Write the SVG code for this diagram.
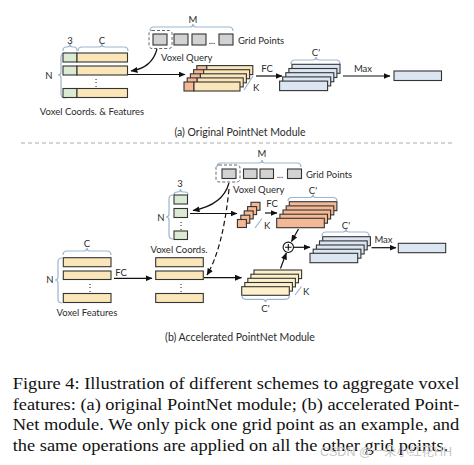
<svg xmlns="http://www.w3.org/2000/svg" width="474" height="465" viewBox="0 0 474 465">
<defs>
<marker id="ah" markerWidth="7" markerHeight="6" refX="6.5" refY="3" orient="auto" markerUnits="userSpaceOnUse"><path d="M0,0 L7,3 L0,6 Z" fill="#111"/></marker>
<style>
.lbl{font-family:Lato,"Open Sans",sans-serif;font-size:9.5px;fill:#2a2a2a}
.ttl{font-family:Lato,"Open Sans",sans-serif;font-size:10.5px;fill:#2a2a2a}
.cap{font-family:"Liberation Serif",serif;font-size:16.4px;fill:#111}
.br{fill:none;stroke:#9bb5d0;stroke-width:1.2}
.box{stroke:#333;stroke-width:1.1}
.y{fill:#fbe6b9}.g{fill:#dbead2}.o{fill:#f4b994}.b{fill:#dbe6f2}.gr{fill:#d2d2d2}.ly{fill:#fdf0cc}
.ar{fill:none;stroke:#111;stroke-width:1.2;marker-end:url(#ah)}
.dbox{fill:none;stroke:#666;stroke-width:1;stroke-dasharray:3,2}
</style>
</defs>
<rect width="474" height="465" fill="#fff"/>

<!-- (a) -->
<g id="a-coords">
<text class="lbl" x="70" y="44" text-anchor="middle">3</text>
<text class="lbl" x="102" y="44" text-anchor="middle">C</text>
<path class="br" d="M63,51 Q63,47 66,47 L67,47 Q70,47 70,44 Q70,47 73,47 L74,47 Q77,47 77,51"/>
<path class="br" d="M78,51 Q78,47 82,47 L99,47 Q102,47 102,44 Q102,47 105,47 L124,47 Q128,47 128,51"/>
<path class="br" d="M66,53 Q61,53 61,57 L61,72 Q61,75 58,75 Q61,75 61,78 L61,94 Q61,98 66,98"/>
<text class="lbl" x="49" y="79" text-anchor="middle">N</text>
<rect class="box g" x="63" y="53" width="14" height="9"/><rect class="box y" x="77" y="53" width="50.5" height="9"/>
<rect class="box g" x="63" y="66" width="14" height="9"/><rect class="box y" x="77" y="66" width="50.5" height="9"/>
<text class="lbl" x="96" y="86" text-anchor="middle">⋮</text>
<rect class="box g" x="63" y="88.5" width="14" height="9"/><rect class="box y" x="77" y="88.5" width="50.5" height="9"/>
<text class="lbl" x="92" y="115" text-anchor="middle">Voxel Coords. &amp; Features</text>
</g>

<g id="a-grid">
<text class="lbl" x="193" y="23" text-anchor="middle">M</text>
<path class="br" d="M150,31 Q150,27 154,27 L190,27 Q193,27 193,24 Q193,27 196,27 L229,27 Q233,27 233,31"/>
<rect class="dbox" x="149" y="30.5" width="23" height="18" rx="3"/>
<rect class="box gr" x="153" y="34" width="14" height="11"/>
<rect class="box gr" x="174" y="34" width="14" height="11"/>
<rect class="box gr" x="192" y="34" width="14" height="11"/>
<text class="lbl" x="212" y="44" text-anchor="middle">...</text>
<rect class="box gr" x="219" y="34" width="14" height="11"/>
<text class="lbl" x="238" y="43.5">Grid Points</text>
<text class="lbl" x="161" y="60.5">Voxel Query</text>
</g>

<g id="a-grouped">
<g>
<rect class="box o" x="196.8" y="65.6" width="10" height="9"/><rect class="box y" x="206.8" y="65.6" width="46" height="9"/>
<rect class="box o" x="193.6" y="69.7" width="10" height="9"/><rect class="box y" x="203.6" y="69.7" width="46" height="9"/>
<rect class="box o" x="190.4" y="73.8" width="10" height="9"/><rect class="box y" x="200.4" y="73.8" width="46" height="9"/>
<rect class="box o" x="187.2" y="77.9" width="10" height="9"/><rect class="box y" x="197.2" y="77.9" width="46" height="9"/>
<rect class="box o" x="184" y="82" width="10" height="9"/><rect class="box y" x="194" y="82" width="46" height="9"/>
</g>
<line class="br" x1="244" y1="90" x2="253" y2="76"/>
<text class="lbl" x="253" y="91">K</text>
</g>

<g id="a-fc-out">
<text class="lbl" x="316" y="56" text-anchor="middle">C'</text>
<path class="br" d="M291,64 Q291,60 295,60 L313,60 Q316,60 316,57 Q316,60 319,60 L336,60 Q340,60 340,64"/>
<rect class="box b" x="292" y="64.3" width="48" height="9"/>
<rect class="box b" x="288.9" y="68.5" width="48" height="9"/>
<rect class="box b" x="285.8" y="72.7" width="48" height="9"/>
<rect class="box b" x="282.7" y="76.9" width="48" height="9"/>
<rect class="box b" x="279.6" y="81.1" width="48" height="9.5"/>
</g>

<g id="a-out">
<rect class="box b" x="394" y="71" width="47.5" height="9.5"/>
</g>

<g id="a-connectors">
<path class="ar" d="M157,49 Q152,68 131,71"/>
<line class="ar" x1="128" y1="74.5" x2="185" y2="74.5"/>
<line class="ar" x1="256" y1="76" x2="282" y2="76"/>
<text class="lbl" x="267" y="72" text-anchor="middle">FC</text>
<line class="ar" x1="343" y1="76" x2="390" y2="76"/>
<text class="lbl" x="363" y="72" text-anchor="middle">Max</text>
</g>

<text class="ttl" x="240" y="136" text-anchor="middle">(a) Original PointNet Module</text>
<line x1="21" y1="143" x2="453" y2="143" stroke="#aaa" stroke-width="1" stroke-dasharray="4,3"/>

<!-- (b) -->
<g id="b-grid">
<text class="lbl" x="262" y="157" text-anchor="middle">M</text>
<path class="br" d="M217,167 Q217,163 221,163 L259,163 Q262,163 262,160 Q262,163 265,163 L297,163 Q301,163 301,167"/>
<rect class="dbox" x="216" y="165" width="24" height="17" rx="3"/>
<rect class="box gr" x="222" y="169" width="14" height="9.5"/>
<rect class="box gr" x="243.5" y="169" width="13.5" height="9.5"/>
<rect class="box gr" x="260" y="169" width="13.5" height="9.5"/>
<text class="lbl" x="280" y="178" text-anchor="middle">...</text>
<rect class="box gr" x="287.5" y="169" width="14" height="9.5"/>
<text class="lbl" x="306" y="177.5">Grid Points</text>
<text class="lbl" x="233" y="192.5">Voxel Query</text>
</g>

<g id="b-coords">
<text class="lbl" x="180" y="187" text-anchor="middle">3</text>
<path class="br" d="M174,195 Q174,192 177,192 L178,192 Q180.5,192 180.5,189 Q180.5,192 183,192 L185,192 Q188,192 188,195"/>
<path class="br" d="M173,195 Q169,195 169,199 L169,214 Q169,217 166,217 Q169,217 169,220 L169,235 Q169,239 173,239"/>
<text class="lbl" x="161" y="220.5" text-anchor="middle">N</text>
<rect class="box g" x="174" y="195" width="13.5" height="9"/>
<rect class="box g" x="174" y="208.5" width="13.5" height="9"/>
<text class="lbl" x="180.5" y="229" text-anchor="middle">⋮</text>
<rect class="box g" x="174" y="231" width="13.5" height="8.5"/>
<text class="lbl" x="179" y="252.5" text-anchor="middle">Voxel Coords.</text>
</g>

<g id="b-small">
<rect class="box o" x="251" y="202.3" width="9" height="8"/>
<rect class="box o" x="247.6" y="206.6" width="9" height="8"/>
<rect class="box o" x="244.2" y="210.9" width="9" height="8"/>
<rect class="box o" x="240.8" y="215.2" width="9" height="8"/>
<rect class="box o" x="237.4" y="219.5" width="9" height="8"/>
<line class="br" x1="255" y1="228" x2="262" y2="218.5"/>
<text class="lbl" x="264" y="228.5">K</text>
</g>

<g id="b-orange">
<text class="lbl" x="313" y="193.5" text-anchor="middle">C'</text>
<path class="br" d="M288,201 Q288,197.5 292,197.5 L310,197.5 Q313,197.5 313,194.5 Q313,197.5 316,197.5 L333,197.5 Q337,197.5 337,201"/>
<rect class="box o" x="289.3" y="201.7" width="47.6" height="9"/>
<rect class="box o" x="286.2" y="205.9" width="47.6" height="9"/>
<rect class="box o" x="283" y="210" width="47.6" height="9"/>
<rect class="box o" x="279.9" y="214.2" width="47.6" height="9"/>
<rect class="box o" x="276.7" y="218.3" width="47.6" height="9.4"/>
</g>

<g id="b-plus">
<circle cx="288.3" cy="247.3" r="5.2" fill="#fff" stroke="#111" stroke-width="1.1"/>
<path d="M285,247.3 H291.6 M288.3,244 V250.6" stroke="#111" stroke-width="1.1"/>
</g>

<g id="b-blue">
<text class="lbl" x="346" y="228.5" text-anchor="middle">C'</text>
<path class="br" d="M322,236 Q322,232 326,232 L343,232 Q346,232 346,229 Q346,232 349,232 L365,232 Q369,232 369,236"/>
<rect class="box b" x="322.7" y="236.7" width="47.7" height="9"/>
<rect class="box b" x="319.5" y="240.9" width="47.7" height="9"/>
<rect class="box b" x="316.4" y="245" width="47.7" height="9"/>
<rect class="box b" x="313.2" y="249.2" width="47.7" height="9"/>
<rect class="box b" x="310" y="253.3" width="47.7" height="9.4"/>
</g>

<g id="b-out">
<rect class="box b" x="398.3" y="243.3" width="47.4" height="9.4"/>
</g>

<g id="b-features">
<text class="lbl" x="87" y="246.5" text-anchor="middle">C</text>
<path class="br" d="M63,255 Q63,251 67,251 L84,251 Q87,251 87,248 Q87,251 90,251 L107,251 Q111,251 111,255"/>
<path class="br" d="M62,258 Q58,258 58,262 L58,277 Q58,280 55,280 Q58,280 58,283 L58,299 Q58,303 62,303"/>
<text class="lbl" x="50" y="283" text-anchor="middle">N</text>
<rect class="box y" x="63.3" y="257.7" width="47.7" height="9"/>
<rect class="box y" x="63.3" y="271" width="47.7" height="8.5"/>
<text class="lbl" x="90" y="291" text-anchor="middle">⋮</text>
<rect class="box y" x="63.3" y="293.5" width="47.7" height="9"/>
<text class="lbl" x="87" y="316" text-anchor="middle">Voxel Features</text>
</g>

<g id="b-fc-rows">
<rect class="box y" x="155.7" y="257.7" width="47.6" height="9"/>
<rect class="box y" x="155.7" y="271" width="47.6" height="8.5"/>
<text class="lbl" x="181" y="291" text-anchor="middle">⋮</text>
<rect class="box y" x="155.7" y="293.5" width="47.6" height="9"/>
</g>

<g id="b-yellow">
<rect class="box ly" x="254" y="270" width="47.6" height="8.6"/>
<rect class="box ly" x="250.9" y="274.2" width="47.6" height="8.6"/>
<rect class="box ly" x="247.8" y="278.3" width="47.6" height="8.6"/>
<rect class="box ly" x="244.8" y="282.5" width="47.6" height="8.6"/>
<rect class="box ly" x="241.7" y="286.7" width="47.6" height="8.6"/>
<line class="br" x1="295" y1="295" x2="301.5" y2="286.5"/>
<text class="lbl" x="303" y="295">K</text>
<path class="br" d="M242,295.5 Q242,299.3 246,299.3 L262.5,299.3 Q265.5,299.3 265.5,302.3 Q265.5,299.3 268.5,299.3 L285.5,299.3 Q289.3,299.3 289.3,295.5"/>
<text class="lbl" x="265.5" y="311.5" text-anchor="middle">C'</text>
</g>

<g id="b-connectors">
<path class="ar" d="M229,183 Q223,205 193,210.5"/>
<path class="ar" d="M229,189 Q223,248 207,275" stroke-dasharray="5,3"/>
<line class="ar" x1="190" y1="213.5" x2="237" y2="213.5"/>
<line class="ar" x1="265" y1="213" x2="277" y2="213"/>
<text class="lbl" x="272" y="206.5" text-anchor="middle">FC</text>
<line class="ar" x1="298.5" y1="229" x2="291.5" y2="241.5"/>
<line class="ar" x1="280.5" y1="268.5" x2="286.3" y2="253"/>
<line class="ar" x1="294" y1="247.3" x2="310" y2="247.3"/>
<line class="ar" x1="371.5" y1="247.7" x2="396" y2="247.7"/>
<text class="lbl" x="383.5" y="242.5" text-anchor="middle">Max</text>
<line class="ar" x1="114" y1="278.3" x2="152" y2="278.3"/>
<text class="lbl" x="121" y="276" text-anchor="middle">FC</text>
<line class="ar" x1="204" y1="277.7" x2="241.5" y2="277.7"/>
</g>

<text class="ttl" x="240" y="340.5" text-anchor="middle">(b) Accelerated PointNet Module</text>

<g id="caption">
<text class="cap" x="12.7" y="389" textLength="446.6" lengthAdjust="spacingAndGlyphs">Figure 4: Illustration of different schemes to aggregate voxel</text>
<text class="cap" x="12.7" y="409.5" textLength="446.6" lengthAdjust="spacingAndGlyphs">features: (a) original PointNet module; (b) accelerated Point-</text>
<text class="cap" x="12.7" y="430" textLength="446.6" lengthAdjust="spacingAndGlyphs">Net module. We only pick one grid point as an example, and</text>
<text class="cap" x="12.7" y="450.5" textLength="435.5" lengthAdjust="spacingAndGlyphs">the same operations are applied on all the other grid points.</text>
</g>
<text x="320" y="456" font-family="'Liberation Sans','Noto Sans CJK SC',sans-serif" font-size="12.5" fill="#c8c8c8">CSDN @一朵小红花HH</text>
</svg>
